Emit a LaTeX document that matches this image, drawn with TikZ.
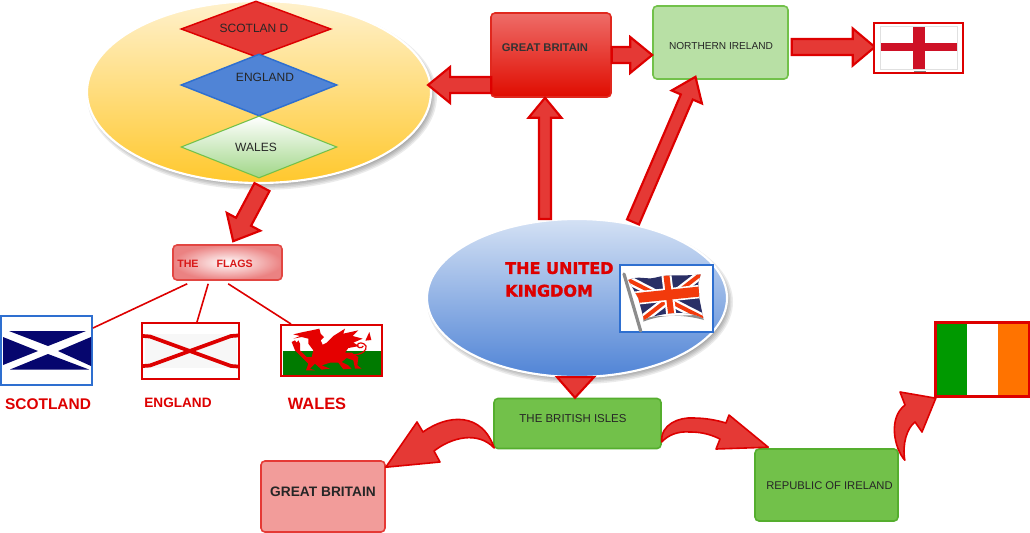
\documentclass[tikz,border=0pt]{standalone}
\usepackage{fontspec}
\setmainfont{Liberation Sans}
\newfontfamily\heavyfont[BoldFont={DejaVu Sans Bold},BoldFeatures={FakeBold=1.6}]{DejaVu Sans}
\usetikzlibrary{shapes.geometric,calc}
\definecolor{arrowfill}{HTML}{E53935}
\definecolor{ukred}{HTML}{DD0000}
\definecolor{frameblue}{HTML}{2E6FD0}
\definecolor{greenfill}{HTML}{72C14A}
\definecolor{greenedge}{HTML}{55AE2E}
\definecolor{navy}{HTML}{06066E}
\definecolor{ujnavy}{HTML}{2A2F66}
\definecolor{ujred}{HTML}{F23A0C}
\definecolor{crossred}{HTML}{CE1126}
\def\px{*0.75pt}
\tikzset{
  arrowshape/.style={fill=arrowfill,draw=ukred,line width=1.6pt,line join=miter,miter limit=6},
  curvearrow/.style={fill=arrowfill,draw=ukred,line width=1.2pt,line join=round},
  lbl/.style={inner sep=0pt,text=black!85,font=\fontsize{9}{11}\selectfont},
  redlbl/.style={inner sep=0pt,text=ukred,font=\bfseries\fontsize{11.6}{13}\selectfont},
  bubble/.style={ellipse,draw=white,line width=1.6pt,inner sep=0pt},
  gem/.style={diamond,inner sep=0pt,line width=1.1pt},
  box/.style={rectangle,rounded corners=3pt,line width=1.2pt,inner sep=0pt},
  flagframe/.style={rectangle,fill=white,line width=1.5pt,inner sep=0pt},
  tie/.style={draw=ukred,line width=1.2pt},
}
\newcommand{\blockarrow}[5]{%
  \coordinate (baA) at #1; \coordinate (baB) at #2;
  \coordinate (baC) at ($(baB)!#5\px!(baA)$);
  \draw[arrowshape] ($(baA)!#3/2\px!90:(baB)$) -- ($(baC)!#3/2\px!90:(baB)$)
    -- ($(baC)!#4/2\px!90:(baB)$) -- (baB) -- ($(baC)!#4/2\px!-90:(baB)$)
    -- ($(baC)!#3/2\px!-90:(baB)$) -- ($(baA)!#3/2\px!-90:(baB)$) -- cycle;
}
\newcommand{\softshadow}[4]{%
  \foreach \s in {3,1.5,0,-1.5,-3}
    \fill[black,opacity=.08] (#1+3,#2+4) ellipse [x radius=#3+\s,y radius=#4+\s];
}
\begin{document}
\begin{tikzpicture}[x=0.75pt,y=-0.75pt]
\useasboundingbox (0,0) rectangle (1030,532);

% ---- big ellipses
\softshadow{259}{92}{172}{91}
\node[bubble,top color={rgb,255:red,255;green,241;blue,204},bottom color={rgb,255:red,255;green,200;blue,45},minimum width=344\px,minimum height=182\px] (yell) at (259,92) {};
\softshadow{577}{298}{150}{79}
\node[bubble,top color={rgb,255:red,212;green,225;blue,244},bottom color={rgb,255:red,80;green,132;blue,214},minimum width=300\px,minimum height=158\px] (uk) at (577,298) {};

% ---- diamonds
\node[gem,fill=arrowfill,draw=ukred,minimum width=150\px,minimum height=56\px] (dscot) at (256,29) {};
\node[gem,fill={rgb,255:red,80;green,132;blue,214},draw=frameblue,minimum width=156\px,minimum height=62\px] (deng) at (259,85) {};
\node[gem,top color=white,bottom color={rgb,255:red,160;green,214;blue,135},draw=greenfill,line width=.8pt,minimum width=156\px,minimum height=62\px] (dwal) at (259,147) {};
\node[lbl] (tscot) at (254,28) {SCOTLAN D};
\node[lbl] (teng) at (265,77) {ENGLAND};
\node[lbl] (twal) at (256,147) {WALES};

% ---- boxes
\node[box,top color={rgb,255:red,238;green,108;blue,104},bottom color={rgb,255:red,224;green,12;blue,0},draw={rgb,255:red,224;green,40;blue,30},minimum width=120\px,minimum height=84\px] (gbT) at (551,55) {};
\node[lbl,font=\fontsize{8.4}{11}\selectfont\bfseries,text=black!80] (tgbT) at (545,48) {GREAT BRITAIN};
\node[box,fill={rgb,255:red,184;green,224;blue,165},draw=greenfill,minimum width=135\px,minimum height=73\px] (ni) at (720.5,42.5) {};
\node[lbl,font=\fontsize{7.6}{9}\selectfont] (tni) at (721,46) {NORTHERN IRELAND};
\node[box,inner color=white,outer color={rgb,255:red,235;green,130;blue,130},draw={rgb,255:red,226;green,70;blue,66},minimum width=109\px,minimum height=35\px] (flags) at (227.5,262.5) {};
\node[inner sep=0pt,anchor=west,text={rgb,255:red,216;green,24;blue,24},font=\bfseries\fontsize{8}{10}\selectfont] (tflags) at (177,263.5) {THE\hspace{13.5pt}FLAGS};
\node[box,fill=greenfill,draw=greenedge,minimum width=167\px,minimum height=50\px] (bi) at (577.5,423.5) {};
\node[lbl,font=\fontsize{8.6}{11}\selectfont] (tbi) at (573,419) {THE BRITISH ISLES};
\node[box,fill={rgb,255:red,242;green,156;blue,154},draw=arrowfill,minimum width=124\px,minimum height=71\px] (gbB) at (323,496.5) {};
\node[lbl,font=\bfseries\fontsize{10.3}{12}\selectfont] (tgbB) at (323,492) {GREAT BRITAIN};
\node[box,fill=greenfill,draw=greenedge,minimum width=143\px,minimum height=72\px] (roi) at (826.5,485) {};
\node[lbl,font=\fontsize{8.4}{11}\selectfont] (troi) at (829.5,486) {REPUBLIC OF IRELAND};

% ---- straight block arrows
\blockarrow{($(gbT.west)+(1,30)$)}{($(yell.east)+(-4,-7)$)}{16}{36}{22}
\blockarrow{(gbT.east)}{(gbT.east -| ni.west)}{16}{36}{22}
\blockarrow{($(ni.east)+(3,4.5)$)}{($(ni.east)+(86,4.5)$)}{16}{37}{22}
\blockarrow{($(uk.north)+(-32,1)$)}{($(gbT.south)+(-6,0)$)}{12}{33}{20}
\blockarrow{($(uk.north)+(56,4)$)}{($(ni.south)+(-25,-3)$)}{13}{33}{22}
\blockarrow{($(yell.south)+(3,3)$)}{($(flags.north west)+(61,-3)$)}{17}{38}{22}
\draw[arrowshape] ($(uk.south)+(-20,-1)$) -- ($(uk.south)+(17,-1)$) -- (bi.north -| 575,0) -- cycle;

% ---- curved block arrows
\draw[curvearrow] ($(bi.west)+(1,24.5)$) .. controls (482,412) and (448,414) .. (423,432)
  -- (417,422) -- ($(gbB.north east)+(0,7)$) -- (440,462) -- (434,451)
  .. controls (452,437) and (478,431) .. ($(bi.west)+(1,24.5)$) -- cycle;
\draw[curvearrow] ($(bi.east)+(0,18.5)$) .. controls (660,424) and (680,417) .. (693,418)
  .. controls (705,418) and (716,420) .. (726,423) -- (729,415)
  -- ($(roi.north west)+(14,-1)$) -- (716,449) -- (720,439)
  .. controls (708,433) and (698,432) .. (690,432)
  .. controls (678,431) and (668,435) .. ($(bi.east)+(0,18.5)$) -- cycle;
\draw[curvearrow] ($(roi.north east)+(6,12)$) .. controls (894,448) and (888,418) .. (905,405)
  -- (900,392) -- ($(roi.north east)+(37,-50)$) -- (922,432) -- (915,422)
  .. controls (907,428) and (902,444) .. ($(roi.north east)+(6,12)$) -- cycle;

% ---- flag: Scotland
\node[flagframe,draw=frameblue,minimum width=91\px,minimum height=69\px] (fscot) at (46.5,350.5) {};
\fill[navy] (9,331) -- (86,331) -- (48,346) -- cycle;
\fill[navy] (3,337) -- (38,351) -- (3,365) -- cycle;
\fill[navy] (91,337) -- (58,351) -- (91,366) -- cycle;
\fill[navy] (10,369.5) -- (48,354) -- (89,369.5) -- cycle;

% ---- flag: England (saltire)
\node[flagframe,draw=ukred,minimum width=97\px,minimum height=56\px] (feng) at (190.5,351) {};
\fill[black!3] (145,334) rectangle (237,368);
\draw[draw=ukred,line width=2.8pt] (143,336) -- (150,336.5) -- (231,366) -- (238,366.5);
\draw[draw=ukred,line width=2.8pt] (143,366) -- (150,365.5) -- (231,336) -- (238,335.5);

% ---- flag: Wales
\node[flagframe,draw=ukred,minimum width=101\px,minimum height=51\px] (fwal) at (331.5,350.5) {};
\fill[green!48!black] (282.5,351) rectangle (380.5,375);
\begin{scope}[x=0.25pt,y=-0.25pt,xshift=210pt,yshift=-241.5pt]
\fill[red!90!black] (40,37) -- (70,30) -- (95,25) -- (118,20) -- (122,35) -- (132,45) -- (122,55) -- (128,68)
 -- (140,62) -- (160,42) -- (195,20) -- (190,35) -- (235,25) -- (218,42) -- (248,50) -- (220,62) -- (238,72)
 -- (205,78) -- (195,92) -- (215,92) -- (235,105) -- (232,130) -- (245,140) -- (225,140) -- (220,115) -- (200,108)
 -- (185,120) -- (205,130) -- (215,140) -- (190,142) -- (175,122) -- (150,122) -- (125,130) -- (150,140) -- (125,143)
 -- (105,125) -- (90,140) -- (105,145) -- (78,145) -- (85,125) -- (65,105) -- (45,85) -- (35,60) -- (45,55) -- (50,62)
 -- (55,55) -- (60,65) -- (60,85) -- (80,105) -- (95,105) -- (100,85) -- (85,65) -- (85,50) -- (65,45) -- (40,50) -- (60,42) -- cycle;
\draw[red!90!black,line width=.9pt] (215,98) .. controls (245,100) and (262,85) .. (258,72)
  .. controls (252,60) and (232,60) .. (232,70) .. controls (232,78) and (245,80) .. (250,72);
\fill[red!90!black] (268,30) -- (256,56) -- (274,54) -- cycle;
\end{scope}

% ---- flag: Cross of St George
\node[flagframe,draw=ukred,minimum width=89\px,minimum height=50\px] (fcross) at (918.5,48) {};
\draw[black!12,line width=.5pt,fill=white] (880,26.5) rectangle (957,69);
\fill[crossred] (880.5,43) rectangle (956.5,51);
\fill[crossred] (913,27) rectangle (925,69);
\fill[black!50] (914,70.5) rectangle (926,72);

% ---- flag: Ireland
\node[flagframe,draw=ukred,minimum width=93\px,minimum height=73\px] (fire) at (982.5,359.5) {};
\fill[green!60!black] (937,324) rectangle (967,395);
\fill[orange!90!red] (998,324) rectangle (1028,395);
\draw[draw=ukred,line width=1.5pt] (fire.south west) rectangle (fire.north east);

% ---- flag: Union
\node[flagframe,draw=frameblue,minimum width=93\px,minimum height=67\px] (fuk) at (666.5,298.5) {};
\begin{scope}[x=0.25pt,y=-0.25pt,xshift=457.5pt,yshift=-191.25pt]
\fill[black!45] (100,200) .. controls (150,180) and (210,175) .. (282,195) -- (270,180) -- (100,185) -- cycle;
\begin{scope}
\clip (55,75) .. controls (85,60) and (110,75) .. (135,68) .. controls (180,55) and (230,65) .. (272,58)
  -- (265,85) -- (268,130) -- (280,190) .. controls (240,170) and (200,170) .. (150,180)
  .. controls (130,185) and (115,185) .. (102,195) -- (85,130) -- cycle;
\fill[ujnavy] (40,40) rectangle (300,210);
\draw[white,line width=6.5pt] (55,75) -- (280,190);
\draw[white,line width=6.5pt] (272,58) -- (95,195);
\draw[ujred,line width=3pt] (55,75) -- (280,190);
\draw[ujred,line width=3pt] (272,58) -- (95,195);
\draw[white,line width=7.5pt] (168,50) -- (185,190);
\draw[white,line width=10pt] (70,130) -- (285,108);
\draw[ujred,line width=4.5pt] (168,50) -- (185,190);
\draw[ujred,line width=7.5pt] (70,130) -- (285,108);
\end{scope}
\draw[black!45,line width=2.4pt,line cap=round] (42,57) -- (92,228);
\end{scope}

% ---- UK title
\node[inner sep=0pt,anchor=west,align=left,text=ukred,font=\heavyfont\bfseries\fontsize{12}{17}\selectfont] (tuk) at (505,279.5) {THE UNITED\\KINGDOM};

% ---- ties from THE FLAGS
\draw[tie] ($(flags.south west)+(15,3)$) -- ($(fscot.north east)+(0,13)$);
\draw[tie] ($(flags.south west)+(36,3)$) -- ($(feng.north west)+(56,0)$);
\draw[tie] ($(flags.south west)+(56,3)$) -- ($(fwal.north west)+(11,0)$);

% ---- flag captions
\node[redlbl] (cscot) at (48,404) {SCOTLAND};
\node[redlbl,font=\bfseries\fontsize{10.2}{12}\selectfont] (ceng) at (178,403) {ENGLAND};
\node[redlbl,font=\bfseries\fontsize{12.3}{14}\selectfont] (cwal) at (317,404) {WALES};
\end{tikzpicture}
\end{document}
